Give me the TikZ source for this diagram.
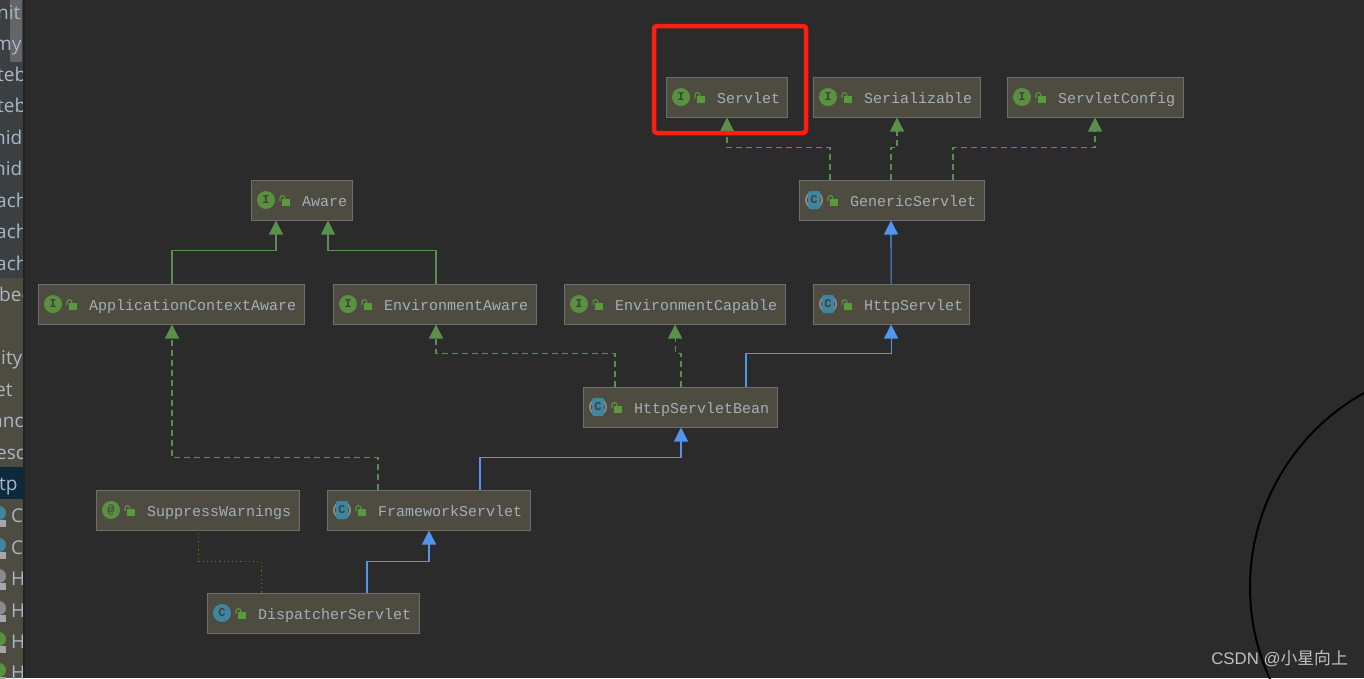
\documentclass[tikz,border=0pt]{standalone}
\usepackage{xcolor}
\usepackage{fontspec}
\usepackage{tikz}
\usetikzlibrary{arrows.meta,positioning}
\setmonofont{Liberation Mono}
\setsansfont{Open Sans}
\newfontfamily\markfont{Liberation Sans}
\newfontfamily\cjk{Noto Sans CJK SC}
\definecolor{canvasbg}{HTML}{2B2B2B}
\definecolor{sidebg}{HTML}{3C3F41}
\definecolor{sidewarm}{HTML}{4E4B40}
\definecolor{sidesel}{HTML}{0D293E}
\definecolor{sidetext}{HTML}{A9B7C6}
\definecolor{nodefill}{HTML}{4E4B40}
\definecolor{nodeline}{HTML}{6E6E6C}
\definecolor{labeltext}{HTML}{A3AFBB}
\definecolor{implgreen}{HTML}{5A8F4C}
\definecolor{extblue}{HTML}{5394EC}
\definecolor{dotolive}{HTML}{6E7000}
\definecolor{icongreen}{HTML}{5A9140}
\definecolor{iconteal}{HTML}{3E86A0}
\definecolor{icongray}{HTML}{8A8A8A}
\definecolor{lockgreen}{HTML}{5A9A3C}
\definecolor{redframe}{HTML}{FF1E12}
% padlock beside the icon
\newcommand{\lockmark}{%
  \fill[lockgreen] ([shift={(30,-1)}]path picture bounding box.west) rectangle ++(8,7);
  \draw[lockgreen, line width=1.1pt] ([shift={(28.5,1)}]path picture bounding box.west) -- ++(0,-3) arc[start angle=180, end angle=0, radius=2.4pt] -- ++(0,2);
}
\newcommand{\boxfont}{\ttfamily\fontsize{15pt}{15pt}\selectfont\hspace*{42pt}}
\begin{document}
\begin{tikzpicture}[
  x=1pt, y=-1pt,
  classbox/.style={draw=nodeline, line width=1pt, fill=nodefill, anchor=west, minimum height=40pt, inner xsep=8.5pt, inner ysep=0pt,
    text height=14pt, text depth=2pt, text=labeltext, font=\boxfont},
  iconletter/.style={circle, anchor=center, draw=none, inner sep=0pt, minimum size=18pt, minimum height=18pt, text height=, text depth=, text=black!75, font=\ttfamily\bfseries\fontsize{12pt}{12pt}\selectfont},
  iface/.style={classbox, path picture={
    \node[iconletter, fill=icongreen] at ([xshift=14.5pt]path picture bounding box.west) {I};
    \lockmark}},
  annot/.style={classbox, path picture={
    \node[iconletter, fill=icongreen] at ([xshift=14.5pt]path picture bounding box.west) {@};
    \lockmark}},
  concrete/.style={classbox, path picture={
    \node[iconletter, fill=iconteal] at ([xshift=14.5pt]path picture bounding box.west) {C};
    \lockmark}},
  abstractc/.style={classbox, path picture={
    \fill[icongray] ([xshift=14.5pt]path picture bounding box.west) circle[radius=9pt];
    \draw[canvasbg!70!icongray, line width=1pt] ([xshift=14.5pt]path picture bounding box.west) circle[radius=6.5pt];
    \fill[iconteal, rounded corners=2pt] ([shift={(8.5,-9)}]path picture bounding box.west) rectangle ++(12,18);
    \node[iconletter, fill=none] at ([xshift=14.5pt]path picture bounding box.west) {C};
    \lockmark}},
  impl/.style={-{Triangle[length=14pt,width=14pt]}, dash pattern=on 6pt off 4pt, line width=1.1pt, implgreen},
  supr/.style={-{Triangle[length=14pt,width=14pt]}, line width=1.1pt, implgreen},
  extd/.style={-{Triangle[length=14pt,width=14pt]}, line width=1.1pt, extblue},
  annolink/.style={line width=1pt, dotolive, dash pattern=on 1.2pt off 3pt},
  sidelabel/.style={anchor=base west, inner sep=0pt, text=sidetext, font=\sffamily\fontsize{19pt}{19pt}\selectfont},
  redbox/.style={draw=redframe, line width=4.5pt, rounded corners=3pt, minimum width=152pt, minimum height=107pt, inner sep=0pt}
]
  \useasboundingbox (0,0) rectangle (1364,678);
  \fill[canvasbg] (0,0) rectangle (1364,678);

  % file tree cut off at the left
  \begin{scope}
    \clip (0,0) rectangle (23,678);
    \fill[sidebg] (0,0) rectangle (23,278);
    \fill[sidewarm] (0,278) rectangle (23,678);
    \fill[sidesel] (0,467) rectangle (23,499);
    \fill[white!20!sidebg] (10,0) rectangle (22,62);
    \foreach \rowy/\rowx/\rowtxt [count=\i] in {19/-3/nit, 50/-6/my, 81/-3/teb, 112/-3/teb, 144/-6/nid, 175/-6/nid, 207/-4/ach, 238/-4/ach, 270/-4/ach, 301/-1/bec,
      364/1/ity, 396/-5/et, 427/-9/nnc, 459/-4/esc, 490/-1/tp, 522/11/C, 554/11/C, 585/11/H, 617/11/H, 648/11/H, 679/11/H}
      \node[sidelabel] (side\i) at (\rowx,\rowy) {\rowtxt};
    \foreach \rowy/\rowc in {513/iconteal, 545/iconteal, 576/icongray, 608/icongray, 639/icongreen, 670/icongreen} {
      \fill[\rowc] (-1,\rowy) circle[radius=7pt];
      \fill[black!35!white] (0,\rowy+7) rectangle (6,\rowy+14);
    }
  \end{scope}
  \fill[black!20!canvasbg] (23,0) rectangle (25,678);

  % top row
  \node[iface] (servlet) at (666,97) {Servlet\hspace*{-1pt}};
  \node[iface, right=25pt of servlet] (serializable) {Serializable};
  \node[iface, right=26pt of serializable] (config) {ServletConfig};
  \node[abstractc] (generic) at (799,200) {GenericServlet};
  \node[iface] (aware) at (251,200) {Aware\hspace*{-3pt}};

  % middle rows
  \node[iface] (appaware) at (38,304) {ApplicationContextAware};
  \node[iface, right=28pt of appaware] (envaware) {EnvironmentAware};
  \node[iface, right=27pt of envaware] (envcapable) {EnvironmentCapable};
  \node[abstractc, right=27pt of envcapable] (httpservlet) {HttpServlet\hspace*{-2pt}};
  \node[abstractc] (servletbean) at (583,407) {HttpServletBean};

  % bottom rows
  \node[annot] (suppress) at (96,510) {SuppressWarnings};
  \node[abstractc, right=27pt of suppress] (framework) {FrameworkServlet};
  \node[concrete] (dispatcher) at (207,613) {DispatcherServlet};

  \draw[impl] ([xshift=31pt]generic.north west) -- ++(0,-32) -| ([xshift=61pt]servlet.south west);
  \draw[impl] ([xshift=92pt]generic.north west) -- ++(0,-32) -| ([xshift=84pt]serializable.south west);
  \draw[impl] ([xshift=154pt]generic.north west) -- ++(0,-32) -| ([xshift=88pt]config.south west);
  \draw[extd] ([xshift=78pt]httpservlet.north west) -- ([xshift=92pt]generic.south west);

  \draw[supr] ([xshift=134pt]appaware.north west) -- ++(0,-33) -| ([xshift=25pt]aware.south west);
  \draw[supr] ([xshift=103pt]envaware.north west) -- ++(0,-33) -| ([xshift=77pt]aware.south west);

  \draw[impl] ([xshift=32pt]servletbean.north west) -- ++(0,-33) -| ([xshift=103pt]envaware.south west);
  \draw[impl] ([xshift=98pt]servletbean.north west) -- ++(0,-33) -| ([xshift=111pt]envcapable.south west);
  \draw[extd] ([xshift=163pt]servletbean.north west) -- ++(0,-33) -| ([xshift=78pt]httpservlet.south west);

  \draw[impl] ([xshift=51pt]framework.north west) -- ++(0,-32) -| ([xshift=134pt]appaware.south west);
  \draw[extd] ([xshift=153pt]framework.north west) -- ++(0,-32) -| ([xshift=98pt]servletbean.south west);

  \draw[extd] ([xshift=160pt]dispatcher.north west) -- ++(0,-31) -| ([xshift=102pt]framework.south west);
  \draw[annolink] ([xshift=54pt]dispatcher.north west) -- ++(0,-31) -| ([xshift=102pt]suppress.south west);

  % hand drawn marks over the screenshot
  \node[redbox] (focus) at (730,79.5) {};
  \begin{scope}
    \clip (0,0) rectangle (1364,678);
    \draw[black, line width=2pt] (1472,587) circle[radius=222pt];
  \end{scope}
  \node[anchor=east, inner sep=0pt, text=white!75!black, font=\markfont\fontsize{16.8pt}{17pt}\selectfont] (watermark) at (1348,659) {CSDN @{\cjk 小星向上}};
\end{tikzpicture}
\end{document}
